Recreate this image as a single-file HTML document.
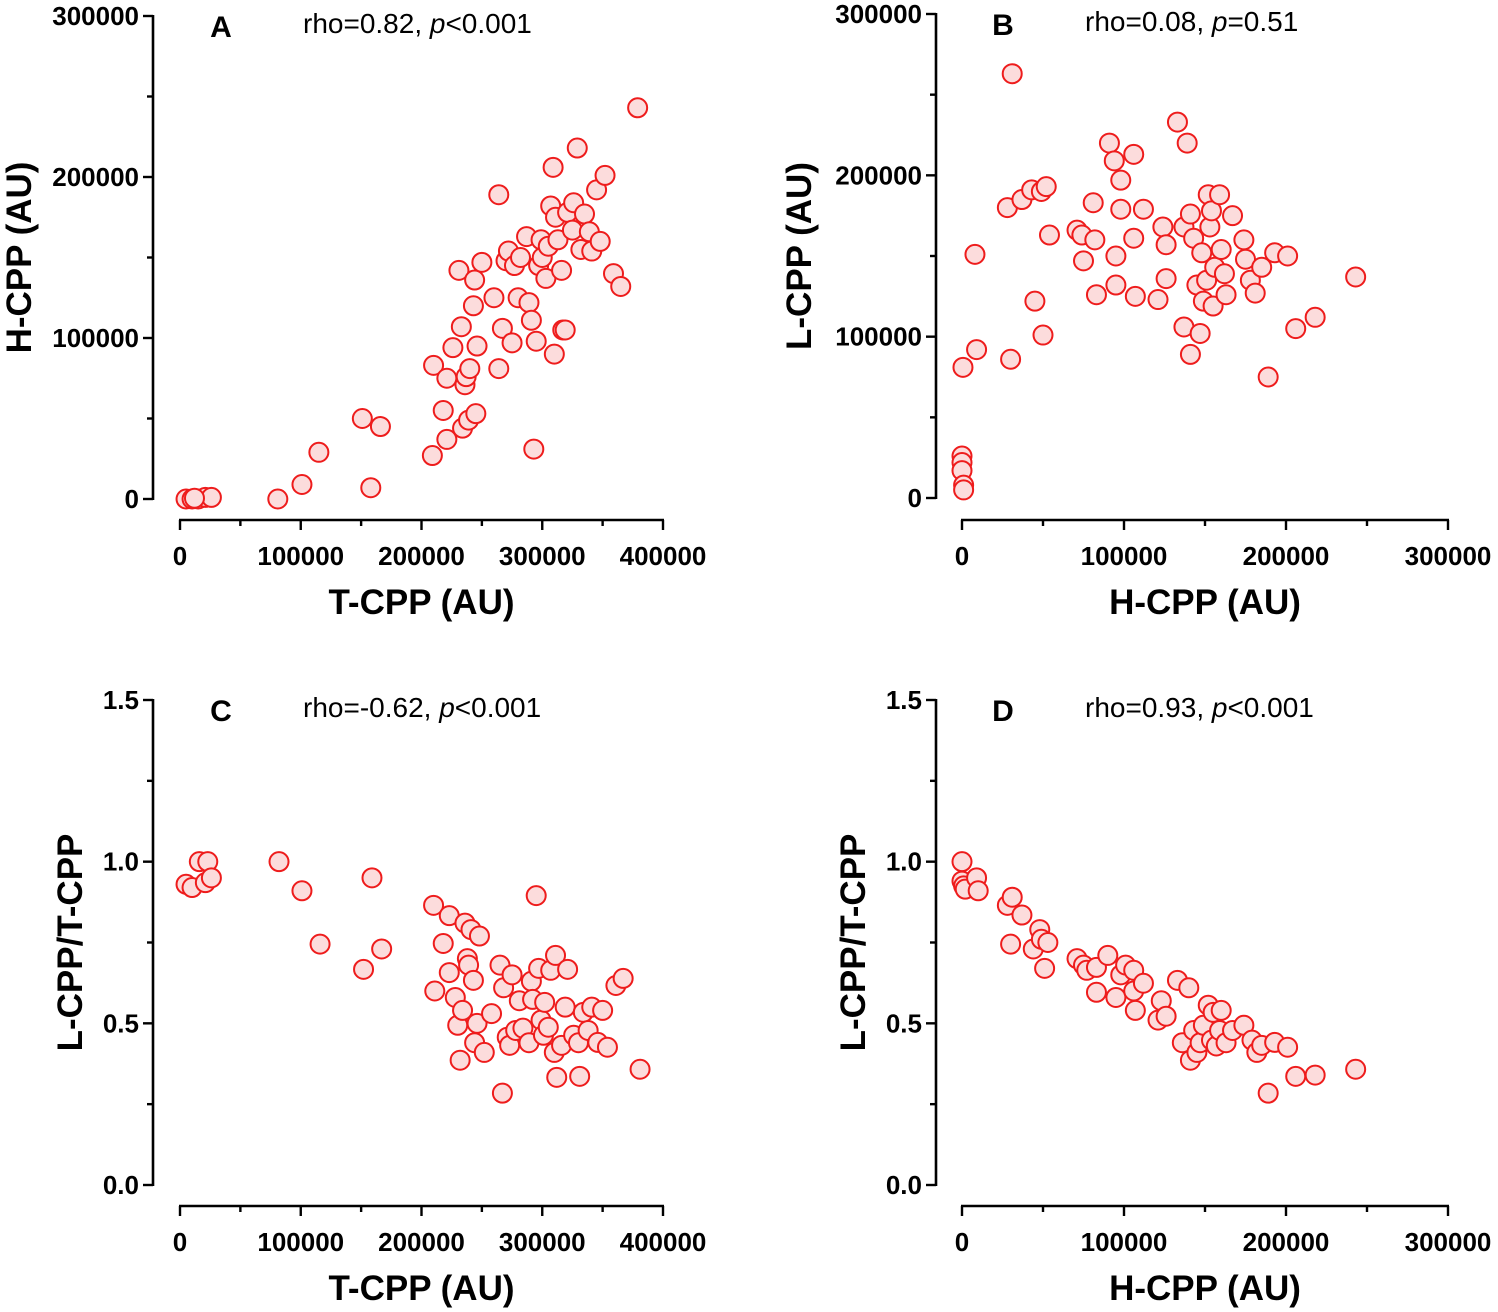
<!DOCTYPE html>
<html><head><meta charset="utf-8"><style>
html,body{margin:0;padding:0;background:#fff;}
svg{display:block;font-family:"Liberation Sans",Arial,sans-serif;}
</style></head><body>
<svg id="fig" width="1498" height="1312" viewBox="0 0 1498 1312" xmlns="http://www.w3.org/2000/svg"></svg>
<script>
const aT=[5,10,15,21,26,12,81,101,115,151,158,166,209,210,218,221,221,226,231,233,234,236,237,239,240,243,244,245,246,250,260,264,264,267,270,272,275,277,280,282,287,289,291,293,295,297,299,300,303,305,307,309,310,311,313,316,317,319,321,325,326,329,332,335,339,341,345,348,352,359,365,379];
const aH=[0,0,0,1,1,0.5,0,9,29,50,7,45,27,83,55,37,75,94,142,107,44,71,76,49,81,120,136,53,95,147,125,189,81,106,148,154,97,145,125,150,163,122,111,31,98,145,161,150,137,157,182,206,90,175,161,142,105,105,178,167,184,218,155,177,166,154,192,160,201,140,132,243];
const bH=[0.6,0,0,0,1,1,8,9,28,30,31,37,43,45,49,52,50,54,71,74,75,81,82,83,91,94,95,95,98,98,106,106,107,112,121,124,126,126,133,137,139,137,141,141,143,145,147,148,149,151,152,153,154,155,156,159,160,162,163,167,174,175,178,181,185,189,193,201,206,218,243];
const bL=[81,26,22,17,8,5,151,92,180,86,263,185,191,122,190,193,101,163,166,163,147,183,160,126,220,209,150,132,197,179,213,161,125,179,123,168,157,136,233,168,220,106,89,176,161,132,102,152,122,135,188,168,178,119,143,188,154,139,126,175,160,148,135,127,143,75,152,150,105,112,137];
const cT=[5,10,16,21,23,26,82,101,116,152,159,167,210,211,218,223,223,228,230,232,234,236,238,239,241,243,244,246,248,252,258,265,267,268,271,273,275,278,281,284,289,291,292,295,297,299,301,302,305,307,310,311,312,316,319,321,326,330,331,334,338,341,346,350,354,361,367,381];
const cR=[0.93,0.92,1.0,0.935,1.0,0.95,1.0,0.91,0.745,0.667,0.95,0.73,0.865,0.60,0.747,0.833,0.657,0.58,0.494,0.386,0.54,0.81,0.70,0.68,0.79,0.633,0.44,0.50,0.77,0.41,0.53,0.68,0.284,0.61,0.457,0.432,0.65,0.478,0.57,0.485,0.44,0.63,0.574,0.895,0.67,0.51,0.463,0.565,0.488,0.664,0.41,0.71,0.333,0.432,0.55,0.667,0.463,0.44,0.336,0.534,0.478,0.55,0.441,0.54,0.426,0.617,0.639,0.358];
const dH=[0,0,1,2,9,10,28,31,30,37,44,48,49,51,53,71,75,77,83,83,90,95,98,101,106,106,107,112,121,123,126,133,136,140,141,143,145,147,149,152,154,155,157,159,160,163,167,174,179,182,185,189,193,201,206,218,243];
const dR=[1.0,0.94,0.925,0.915,0.95,0.91,0.865,0.89,0.745,0.835,0.73,0.79,0.76,0.67,0.75,0.70,0.68,0.664,0.596,0.673,0.71,0.58,0.65,0.68,0.664,0.60,0.54,0.624,0.51,0.57,0.522,0.633,0.44,0.61,0.386,0.478,0.41,0.44,0.494,0.556,0.448,0.534,0.43,0.478,0.54,0.44,0.478,0.494,0.448,0.41,0.432,0.284,0.441,0.426,0.336,0.34,0.358];
const xTicksA=["0","100000","200000","300000","400000"];
const xTicksB=["0","100000","200000","300000"];
const yTicksAB=["0","100000","200000","300000"];
const yTicksCD=["0.0","0.5","1.0","1.5"];

const NS="http://www.w3.org/2000/svg";
const svg=document.getElementById('fig');
function mk(tag,attrs,parent){const e=document.createElementNS(NS,tag);for(const k in attrs)e.setAttribute(k,attrs[k]);(parent||svg).appendChild(e);return e;}

function panel(cfg){
  const g=mk('g',{});
  
  
  const X=v=>cfg.x0+(v-0)/cfg.xmax*(cfg.x1-cfg.x0);
  const Y=v=>cfg.y0-(v/cfg.ymax)*(cfg.y0-cfg.y1);
  const ya=mk('line',{x1:cfg.ax,y1:cfg.y0+1,x2:cfg.ax,y2:cfg.y1-1,stroke:'#000','stroke-width':2.6},g);
  
  const nY=cfg.yt.length-1;
  for(let i=0;i<=nY*2;i++){
    const v=cfg.ymax*i/(nY*2), y=Y(v), maj=i%2==0;
    mk('line',{x1:cfg.ax-(maj?10:6),y1:y,x2:cfg.ax,y2:y,stroke:'#000','stroke-width':2.4},g);
    if(maj){const t=mk('text',{x:cfg.ax-14,y:y+9,'text-anchor':'end','font-size':26,'font-weight':'bold'},g);t.textContent=cfg.yt[i/2];
      }
  }
  const xa=mk('line',{x1:cfg.x0-1,y1:cfg.ay,x2:cfg.x1+1,y2:cfg.ay,stroke:'#000','stroke-width':2.6},g);
  
  const nX=cfg.xt.length-1;
  for(let i=0;i<=nX*2;i++){
    const v=cfg.xmax*i/(nX*2), x=X(v), maj=i%2==0;
    mk('line',{x1:x,y1:cfg.ay,x2:x,y2:cfg.ay+(maj?10:6),stroke:'#000','stroke-width':2.4},g);
    if(maj){const t=mk('text',{x:x,y:cfg.ay+45,'text-anchor':'middle','font-size':26,'font-weight':'bold'},g);t.textContent=cfg.xt[i/2];
      }
  }
  const xt=mk('text',{x:(cfg.x0+cfg.x1)/2,y:cfg.ay+94,'text-anchor':'middle','font-size':35,'font-weight':'bold'},g);xt.textContent=cfg.xlab;
  
  const yt=mk('text',{x:0,y:0,'text-anchor':'middle','font-size':35,'font-weight':'bold',transform:`translate(${cfg.ytx},${(cfg.y0+cfg.y1)/2}) rotate(-90)`},g);yt.textContent=cfg.ylab;
  
  const lt=mk('text',{x:cfg.letx,y:cfg.y1+21,'text-anchor':'middle','font-size':30,'font-weight':'bold'},g);lt.textContent=cfg.letter;
  
  const st=mk('text',{x:cfg.letx+82,y:cfg.y1+17,'font-size':28},g);
  
  st.innerHTML=cfg.stat;
  for(let i=0;i<cfg.xs.length;i++){
    const c=mk('circle',{cx:X(cfg.xs[i]),cy:Y(cfg.ys[i]),r:9.5,fill:'#fcdcdc',stroke:'#ee1c1c','stroke-width':2},g);
    
    
  }
}
panel({name:'panel-a',ax:153,x0:180,x1:663,xmax:400,y0:499,y1:16,ymax:300,ay:520,xt:xTicksA,yt:yTicksAB,xs:aT,ys:aH,xlab:'T-CPP (AU)',ylab:'H-CPP (AU)',ytx:31,letter:'A',letx:221,stat:'rho=0.82, <tspan font-style="italic">p</tspan>&lt;0.001'});
panel({name:'panel-b',ax:936,x0:962,x1:1448,xmax:300,y0:498,y1:14,ymax:300,ay:520,xt:xTicksB,yt:yTicksAB,xs:bH,ys:bL,xlab:'H-CPP (AU)',ylab:'L-CPP (AU)',ytx:811,letter:'B',letx:1003,stat:'rho=0.08, <tspan font-style="italic">p</tspan>=0.51'});
panel({name:'panel-c',ax:153,x0:180,x1:663,xmax:400,y0:1185,y1:700,ymax:1.5,ay:1206,xt:xTicksA,yt:yTicksCD,xs:cT,ys:cR,xlab:'T-CPP (AU)',ylab:'L-CPP/T-CPP',ytx:82,letter:'C',letx:221,stat:'rho=-0.62, <tspan font-style="italic">p</tspan>&lt;0.001'});
panel({name:'panel-d',ax:936,x0:962,x1:1448,xmax:300,y0:1185,y1:700,ymax:1.5,ay:1206,xt:xTicksB,yt:yTicksCD,xs:dH,ys:dR,xlab:'H-CPP (AU)',ylab:'L-CPP/T-CPP',ytx:865,letter:'D',letx:1003,stat:'rho=0.93, <tspan font-style="italic">p</tspan>&lt;0.001'});
</script>
</body></html>
